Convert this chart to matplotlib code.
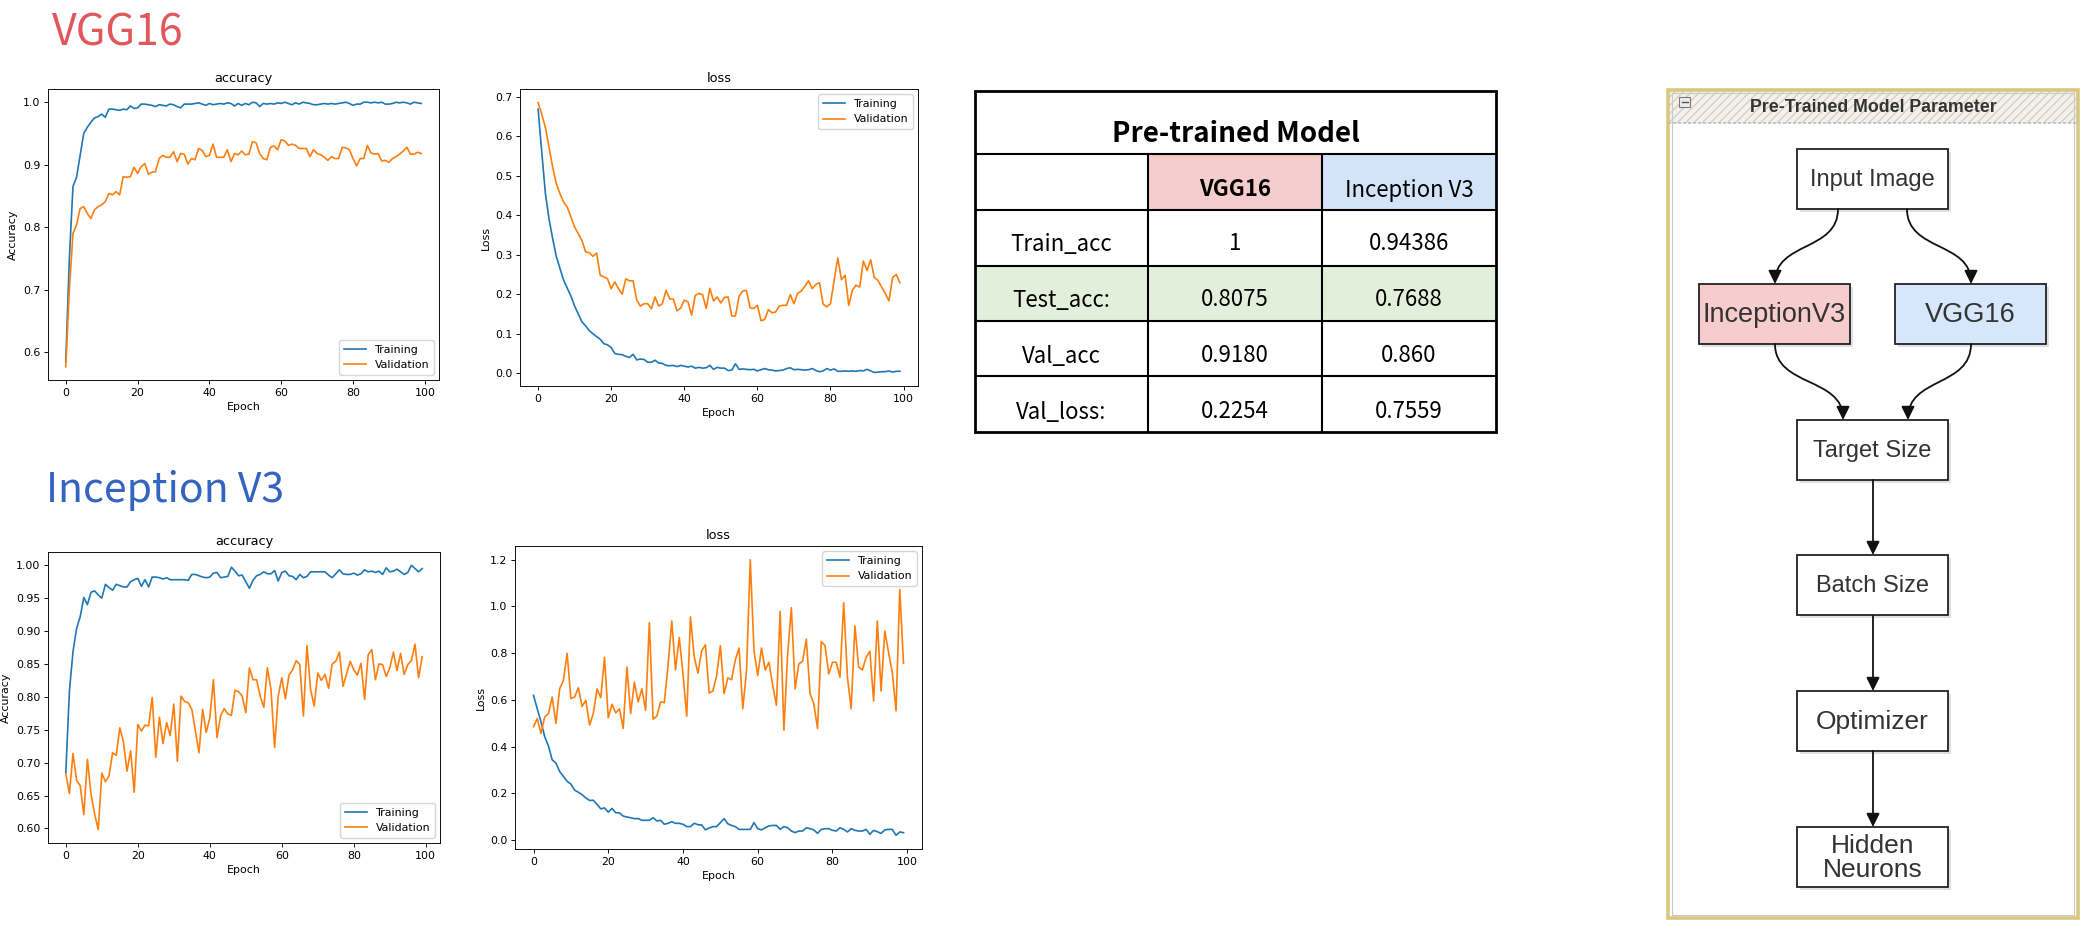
import matplotlib
matplotlib.use('Agg')
import matplotlib.pyplot as plt
from matplotlib.patches import Rectangle, FancyArrowPatch
from matplotlib.path import Path

# ---------------- data ----------------
vgg_train_acc = [
    0.585, 0.75, 0.865, 0.88, 0.915, 0.95, 0.96, 0.968, 0.975, 0.977,
    0.981, 0.976, 0.989, 0.989, 0.988, 0.987, 0.989, 0.988, 0.994, 0.990,
    0.991, 0.997, 0.997, 0.996, 0.995, 0.993, 0.996, 0.995, 0.994, 0.997,
    0.996, 0.993, 0.991, 0.997, 0.997, 0.997, 0.998, 0.999, 0.997, 0.995,
    0.998, 0.996, 0.997, 0.998, 0.997, 0.999, 0.998, 0.994, 0.998, 0.995,
    0.998, 0.996, 1.000, 0.999, 0.993, 0.998, 0.997, 0.998, 0.997, 0.999,
    0.998, 1.000, 0.998, 0.996, 0.999, 0.997, 1.000, 0.999, 0.998, 0.996,
    0.996, 0.997, 0.998, 0.997, 0.998, 0.997, 0.998, 0.999, 1.000, 0.998,
    0.995, 0.997, 0.997, 1.000, 1.000, 0.999, 1.000, 0.999, 1.000, 0.997,
    0.997, 0.998, 1.000, 0.999, 1.000, 0.999, 0.997, 1.000, 0.999, 0.998]
vgg_val_acc = [
    0.577, 0.70, 0.790, 0.804, 0.830, 0.833, 0.822, 0.814, 0.828, 0.833,
    0.836, 0.841, 0.854, 0.852, 0.857, 0.852, 0.881, 0.880, 0.881, 0.896,
    0.886, 0.897, 0.902, 0.885, 0.888, 0.889, 0.910, 0.915, 0.912, 0.912,
    0.921, 0.905, 0.918, 0.917, 0.901, 0.910, 0.908, 0.926, 0.923, 0.913,
    0.915, 0.933, 0.912, 0.912, 0.912, 0.924, 0.905, 0.918, 0.916, 0.922,
    0.916, 0.917, 0.937, 0.935, 0.918, 0.910, 0.908, 0.928, 0.930, 0.924,
    0.940, 0.938, 0.931, 0.933, 0.931, 0.926, 0.926, 0.926, 0.913, 0.924,
    0.918, 0.916, 0.912, 0.907, 0.913, 0.910, 0.910, 0.928, 0.927, 0.924,
    0.910, 0.898, 0.910, 0.910, 0.931, 0.919, 0.917, 0.918, 0.906, 0.907,
    0.904, 0.910, 0.913, 0.917, 0.922, 0.928, 0.917, 0.917, 0.920, 0.918]
vgg_train_loss = [
    0.668, 0.56, 0.455, 0.39, 0.34, 0.295, 0.265, 0.235, 0.215, 0.195,
    0.170, 0.150, 0.130, 0.120, 0.108, 0.100, 0.093, 0.086, 0.075, 0.072,
    0.065, 0.050, 0.048, 0.047, 0.043, 0.040, 0.048, 0.034, 0.036, 0.035,
    0.028, 0.028, 0.033, 0.026, 0.025, 0.020, 0.019, 0.020, 0.017, 0.020,
    0.018, 0.016, 0.018, 0.013, 0.015, 0.013, 0.014, 0.020, 0.010, 0.015,
    0.013, 0.013, 0.007, 0.008, 0.024, 0.010, 0.011, 0.010, 0.009, 0.010,
    0.006, 0.009, 0.012, 0.009, 0.008, 0.006, 0.007, 0.008, 0.012, 0.014,
    0.009, 0.010, 0.009, 0.008, 0.009, 0.012, 0.007, 0.004, 0.006, 0.012,
    0.008, 0.011, 0.005, 0.005, 0.006, 0.005, 0.006, 0.005, 0.007, 0.006,
    0.010, 0.006, 0.002, 0.003, 0.004, 0.004, 0.006, 0.003, 0.005, 0.005]
vgg_val_loss = [
    0.685, 0.655, 0.622, 0.571, 0.521, 0.479, 0.454, 0.433, 0.420, 0.395,
    0.370, 0.353, 0.336, 0.307, 0.305, 0.296, 0.304, 0.248, 0.244, 0.239,
    0.214, 0.231, 0.214, 0.200, 0.239, 0.234, 0.234, 0.185, 0.170, 0.176,
    0.176, 0.163, 0.193, 0.170, 0.176, 0.210, 0.188, 0.188, 0.158, 0.165,
    0.185, 0.181, 0.147, 0.197, 0.202, 0.199, 0.164, 0.215, 0.183, 0.193,
    0.178, 0.192, 0.193, 0.145, 0.145, 0.195, 0.208, 0.210, 0.166, 0.164,
    0.172, 0.133, 0.136, 0.161, 0.153, 0.155, 0.170, 0.172, 0.172, 0.199,
    0.176, 0.202, 0.208, 0.220, 0.234, 0.214, 0.225, 0.229, 0.175, 0.168,
    0.176, 0.235, 0.292, 0.237, 0.248, 0.172, 0.210, 0.223, 0.218, 0.284,
    0.260, 0.287, 0.242, 0.235, 0.218, 0.202, 0.183, 0.242, 0.250, 0.229]
inc_train_acc = [
    0.685, 0.809, 0.869, 0.904, 0.922, 0.951, 0.940, 0.959, 0.961, 0.955,
    0.950, 0.971, 0.966, 0.962, 0.971, 0.969, 0.967, 0.967, 0.975, 0.978,
    0.980, 0.968, 0.978, 0.967, 0.982, 0.982, 0.981, 0.979, 0.981, 0.978,
    0.978, 0.978, 0.978, 0.978, 0.977, 0.986, 0.986, 0.984, 0.982, 0.981,
    0.982, 0.988, 0.989, 0.981, 0.982, 0.983, 0.997, 0.991, 0.984, 0.985,
    0.975, 0.965, 0.977, 0.984, 0.986, 0.990, 0.987, 0.987, 0.992, 0.976,
    0.989, 0.991, 0.984, 0.983, 0.978, 0.986, 0.981, 0.983, 0.990, 0.990,
    0.990, 0.990, 0.990, 0.985, 0.981, 0.987, 0.993, 0.987, 0.986, 0.986,
    0.988, 0.985, 0.987, 0.993, 0.990, 0.991, 0.989, 0.991, 0.986, 0.996,
    0.990, 0.991, 0.994, 0.990, 0.986, 0.989, 1.000, 0.995, 0.990, 0.995]
inc_val_acc = [
    0.683, 0.653, 0.714, 0.673, 0.665, 0.621, 0.705, 0.652, 0.622, 0.598,
    0.684, 0.671, 0.680, 0.715, 0.711, 0.753, 0.732, 0.687, 0.718, 0.655,
    0.758, 0.748, 0.757, 0.756, 0.799, 0.708, 0.769, 0.729, 0.761, 0.741,
    0.789, 0.702, 0.801, 0.793, 0.791, 0.781, 0.748, 0.715, 0.781, 0.746,
    0.768, 0.826, 0.738, 0.771, 0.782, 0.774, 0.772, 0.810, 0.808, 0.801,
    0.776, 0.844, 0.826, 0.826, 0.801, 0.784, 0.844, 0.811, 0.723, 0.801,
    0.829, 0.797, 0.833, 0.841, 0.855, 0.849, 0.771, 0.878, 0.811, 0.786,
    0.836, 0.825, 0.834, 0.813, 0.850, 0.854, 0.868, 0.816, 0.835, 0.854,
    0.841, 0.833, 0.851, 0.796, 0.864, 0.872, 0.826, 0.850, 0.849, 0.831,
    0.844, 0.868, 0.840, 0.866, 0.834, 0.849, 0.855, 0.880, 0.829, 0.861]
inc_train_loss = [
    0.619, 0.562, 0.506, 0.442, 0.402, 0.343, 0.329, 0.293, 0.272, 0.251,
    0.239, 0.213, 0.204, 0.194, 0.180, 0.169, 0.170, 0.152, 0.133, 0.137,
    0.119, 0.135, 0.116, 0.116, 0.102, 0.098, 0.095, 0.091, 0.091, 0.084,
    0.084, 0.084, 0.095, 0.081, 0.084, 0.067, 0.071, 0.078, 0.071, 0.071,
    0.067, 0.057, 0.057, 0.071, 0.065, 0.064, 0.043, 0.051, 0.057, 0.057,
    0.074, 0.091, 0.069, 0.062, 0.057, 0.045, 0.045, 0.045, 0.045, 0.074,
    0.048, 0.043, 0.052, 0.060, 0.062, 0.062, 0.045, 0.057, 0.052, 0.038,
    0.031, 0.038, 0.038, 0.052, 0.048, 0.043, 0.028, 0.045, 0.048, 0.048,
    0.041, 0.038, 0.052, 0.045, 0.034, 0.048, 0.041, 0.038, 0.038, 0.045,
    0.024, 0.041, 0.035, 0.028, 0.043, 0.045, 0.045, 0.020, 0.034, 0.031]
inc_val_loss = [
    0.485, 0.520, 0.456, 0.527, 0.541, 0.612, 0.499, 0.647, 0.683, 0.799,
    0.605, 0.612, 0.652, 0.572, 0.598, 0.492, 0.541, 0.647, 0.609, 0.782,
    0.523, 0.581, 0.544, 0.562, 0.477, 0.740, 0.541, 0.676, 0.591, 0.647,
    0.555, 0.931, 0.517, 0.530, 0.591, 0.588, 0.747, 0.938, 0.728, 0.867,
    0.711, 0.530, 0.955, 0.785, 0.714, 0.810, 0.836, 0.629, 0.638, 0.704,
    0.832, 0.626, 0.694, 0.686, 0.771, 0.822, 0.562, 0.725, 1.200, 0.810,
    0.704, 0.822, 0.728, 0.761, 0.662, 0.577, 0.980, 0.470, 0.796, 0.995,
    0.647, 0.754, 0.765, 0.860, 0.626, 0.584, 0.477, 0.850, 0.832, 0.711,
    0.761, 0.761, 0.697, 1.016, 0.697, 0.562, 0.917, 0.740, 0.728, 0.782,
    0.808, 0.595, 0.938, 0.638, 0.895, 0.803, 0.718, 0.553, 1.073, 0.757]

series_labels = ["Training", "Validation"]
x_ticks = [0, 20, 40, 60, 80, 100]
acc_ticks_vgg = [0.6, 0.7, 0.8, 0.9, 1.0]
acc_ticks_inc = [0.60, 0.65, 0.70, 0.75, 0.80, 0.85, 0.90, 0.95, 1.00]
loss_ticks_vgg = [0.0, 0.1, 0.2, 0.3, 0.4, 0.5, 0.6, 0.7]
loss_ticks_inc = [0.0, 0.2, 0.4, 0.6, 0.8, 1.0, 1.2]

table_title = "Pre-trained Model"
table_models = ["VGG16", "Inception V3"]
table_metrics = ["Train_acc", "Test_acc:", "Val_acc", "Val_loss:"]
table_vgg = ["1", "0.8075", "0.9180", "0.2254"]
table_inc = ["0.94386", "0.7688", "0.860", "0.7559"]

flow_title = "Pre-Trained Model Parameter"
flow_labels = ["Input Image", "InceptionV3", "VGG16", "Target Size",
               "Batch Size", "Optimizer", "Hidden\nNeurons"]

# ---------------- figure ----------------
plt.rcParams.update({
    'font.family': ['DejaVu Sans'],
    'font.size': 7.9,
    'axes.linewidth': 0.65,
    'xtick.major.size': 2.8, 'ytick.major.size': 2.8,
    'xtick.major.width': 0.65, 'ytick.major.width': 0.65,
    'xtick.major.pad': 2.8, 'ytick.major.pad': 2.8,
    'axes.labelpad': 3.2,
    'legend.fontsize': 7.9,
})

W, H = 2098, 936
fig = plt.figure(figsize=(W / 100, H / 100), dpi=100)
fig.patch.set_facecolor('white')

ax0 = fig.add_axes([0, 0, 1, 1])
ax0.set_xlim(0, W)
ax0.set_ylim(H, 0)
ax0.axis('off')


def rect(l, t, r, b):
    return [l / W, 1 - b / H, (r - l) / W, (b - t) / H]


def chart(box, train, val, title, ylabel, yticks, loc):
    ax = fig.add_axes(rect(*box))
    ep = list(range(len(train)))
    ax.plot(ep, train, color='#1f77b4', lw=1.2, label=series_labels[0])
    ax.plot(ep, val, color='#ff7f0e', lw=1.2, label=series_labels[1])
    ax.set_title(title, fontsize=9.3, pad=4.7)
    ax.set_xlabel('Epoch')
    ax.set_ylabel(ylabel)
    ax.set_xticks(x_ticks)
    ax.set_yticks(yticks)
    ax.legend(loc=loc)
    return ax


chart((48, 89, 439, 380), vgg_train_acc, vgg_val_acc, 'accuracy', 'Accuracy',
      acc_ticks_vgg, 'lower right')
chart((520, 89, 918, 386), vgg_train_loss, vgg_val_loss, 'loss', 'Loss',
      loss_ticks_vgg, 'upper right')
chart((48, 552, 440, 843), inc_train_acc, inc_val_acc, 'accuracy', 'Accuracy',
      acc_ticks_inc, 'lower right')
chart((515, 546, 922, 849), inc_train_loss, inc_val_loss, 'loss', 'Loss',
      loss_ticks_inc, 'upper right')

# ---------------- section titles ----------------
KR = ['Noto Sans CJK KR', 'DejaVu Sans']
ax0.text(52, 45, "VGG16", fontsize=31, family=KR, color='#E0585E',
         ha='left', va='baseline')
ax0.text(46, 502, "Inception V3", fontsize=29.5, family=KR, color='#3464C0',
         ha='left', va='baseline')

# ---------------- table ----------------
cols = [975, 1148, 1322, 1496]
rows = [91, 154, 210, 266, 321, 376, 432]
ax0.add_patch(Rectangle((cols[1], rows[1]), cols[2] - cols[1], rows[2] - rows[1],
                        facecolor='#F4CCCC', edgecolor='none'))
ax0.add_patch(Rectangle((cols[2], rows[1]), cols[3] - cols[2], rows[2] - rows[1],
                        facecolor='#D3E3F8', edgecolor='none'))
ax0.add_patch(Rectangle((cols[0], rows[3]), cols[3] - cols[0], rows[4] - rows[3],
                        facecolor='#E2EFDA', edgecolor='none'))
for y in rows[1:-1]:
    ax0.plot([cols[0], cols[3]], [y, y], color='black', lw=1.5,
             solid_capstyle='butt')
for x in cols[1:-1]:
    ax0.plot([x, x], [rows[1], rows[-1]], color='black', lw=1.5,
             solid_capstyle='butt')
ax0.add_patch(Rectangle((cols[0], rows[0]), cols[3] - cols[0], rows[-1] - rows[0],
                        facecolor='none', edgecolor='black', lw=2.0))

ax0.text((cols[0] + cols[3]) / 2, 141.5, table_title, fontsize=20, family=KR,
         weight='bold', ha='center', va='baseline', color='black')
cx = [(cols[i] + cols[i + 1]) / 2 for i in range(3)]
ax0.text(cx[1], 196.5, table_models[0], fontsize=16, family=KR,
         weight='bold', ha='center', va='baseline')
ax0.text(cx[2], 196.5, table_models[1], fontsize=16, family=KR,
         ha='center', va='baseline')
base_y = [250.5, 306.5, 362.5, 418.5]
for i in range(len(table_metrics)):
    ax0.text(cx[0], base_y[i], table_metrics[i], fontsize=16, family=KR,
             ha='center', va='baseline')
    ax0.text(cx[1], base_y[i], table_vgg[i], fontsize=16, family=KR,
             ha='center', va='baseline')
    ax0.text(cx[2], base_y[i], table_inc[i], fontsize=16, family=KR,
             ha='center', va='baseline')

# ---------------- flowchart ----------------
AR = ['Liberation Sans', 'DejaVu Sans']
fx0, fy0, fx1, fy1 = 1668, 90, 2078, 918
# header band (hatched)
ax0.add_patch(Rectangle((fx0, fy0), fx1 - fx0, 33, facecolor='#F4F2E8',
                        edgecolor='#CFCFCF', hatch='////', lw=0))
ax0.plot([fx0, fx1], [fy0 + 33, fy0 + 33], color='#BDBDBD', lw=1.2,
         ls=(0, (2, 1)))
# outer frame
ax0.add_patch(Rectangle((fx0, fy0), fx1 - fx0, fy1 - fy0, facecolor='none',
                        edgecolor='#D8C77F', lw=2.6))
ax0.add_patch(Rectangle((fx0 + 4, fy0 + 3), fx1 - fx0 - 8, fy1 - fy0 - 6,
                        facecolor='none', edgecolor='#C9C9C9', lw=0.8))
# minus icon
ax0.add_patch(Rectangle((1679, 97), 11, 10, facecolor='#EDEDED',
                        edgecolor='#7A7A7A', lw=0.8))
ax0.plot([1681.5, 1687.5], [102, 102], color='#555555', lw=1.0)
ax0.text((fx0 + fx1) / 2, 108, flow_title, fontsize=12.8, family=AR,
         weight='bold', color='#333333', ha='center', va='center')

bw, bh = 151, 60
box_pos = [(1797, 149), (1699, 284), (1895, 284), (1797, 420),
           (1797, 555), (1797, 691), (1797, 827)]
box_fill = ['white', '#F6CDCC', '#D6E6FB', 'white', 'white', 'white', 'white']
box_fs = [17, 19.5, 19.5, 17, 17, 19, 19]
for (x, y), lab, fc, fs in zip(box_pos, flow_labels, box_fill, box_fs):
    ax0.add_patch(Rectangle((x + 3, y + 3), bw, bh, facecolor='#000000',
                            alpha=0.12, edgecolor='none'))
    ax0.add_patch(Rectangle((x, y), bw, bh, facecolor=fc, edgecolor='#222222',
                            lw=1.3))
    ax0.text(x + bw / 2, y + bh / 2 + 1, lab, fontsize=fs, family=AR,
             color='#333333', ha='center', va='center', linespacing=1.0)


def curve(p0, p1):
    ym = (p0[1] + p1[1]) / 2
    verts = [p0, (p0[0], ym + 5), (p1[0], ym - 5), p1]
    codes = [Path.MOVETO, Path.CURVE4, Path.CURVE4, Path.CURVE4]
    ax0.add_patch(FancyArrowPatch(path=Path(verts, codes),
                                  arrowstyle='-|>,head_length=0.45,head_width=0.22',
                                  mutation_scale=18, color='#111111', lw=1.3))


def straight(x, y0, y1):
    ax0.add_patch(FancyArrowPatch((x, y0), (x, y1), shrinkA=0, shrinkB=0,
                                  arrowstyle='-|>,head_length=0.45,head_width=0.22',
                                  mutation_scale=18, color='#111111', lw=1.3))


curve((1838, 209), (1775, 284))
curve((1907, 209), (1971, 284))
curve((1775, 344), (1843, 420))
curve((1971, 344), (1908, 420))
straight(1873, 480, 555)
straight(1873, 616, 691)
straight(1873, 751, 827)

fig.savefig('out.png', dpi=100, facecolor='white')
